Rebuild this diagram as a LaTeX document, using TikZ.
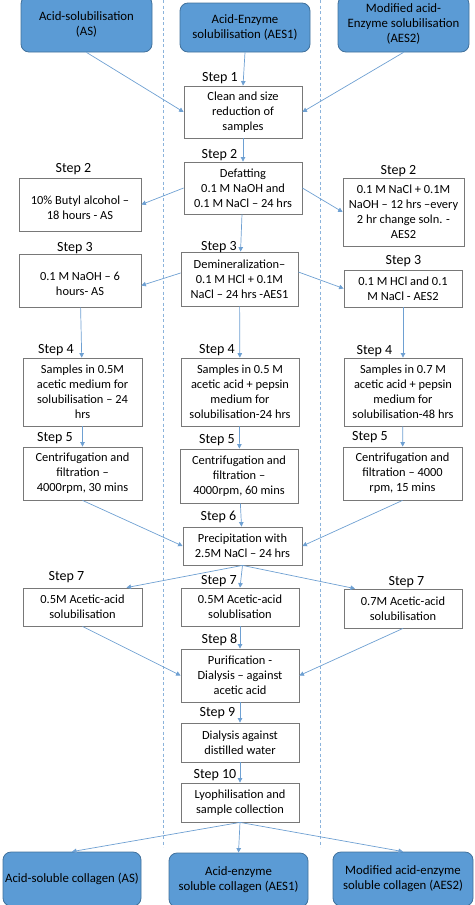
\documentclass[tikz,border=0pt]{standalone}
\usepackage{fontspec}
\setmainfont{Carlito}
\usepackage{xcolor}
\usepackage{tikz}
\usetikzlibrary{arrows.meta,positioning}

\definecolor{lineblue}{RGB}{110,160,210}
\definecolor{fillblue}{RGB}{91,155,213}
\definecolor{edgeblue}{RGB}{65,113,156}
\definecolor{boxgray}{RGB}{120,120,120}

\begin{document}
\begin{tikzpicture}[x=1pt, y=-1pt,
  stepbox/.style={draw=boxgray, line width=0.8pt, fill=white, inner sep=1pt, align=center, font=\fontsize{12.4}{15}\selectfont},
  endbox/.style={draw=edgeblue, line width=0.8pt, fill=fillblue, rounded corners=8pt, inner sep=1pt, align=center, font=\fontsize{12.8}{15}\selectfont},
  lbl/.style={inner sep=0pt, font=\fontsize{14}{16}\selectfont},
  arr/.style={draw=lineblue, line width=0.7pt, -{Triangle[length=4.5pt,width=4.5pt]}},
  sep/.style={draw=lineblue!80, line width=0.6pt, dash pattern=on 3pt off 2.5pt}
]
  \useasboundingbox (0,0) rectangle (474,905);

  % column separators
  \draw[sep] (163,0) -- (163,847);
  \draw[sep] (320,0) -- (320,847);

  % methods
  \node[endbox, minimum width=131pt, minimum height=56pt] (as) at (86.5,24) {Acid-solubilisation\\(AS)};
  \node[endbox, minimum width=130pt, minimum height=49pt] (aes1) at (245,27.5) {Acid-Enzyme\\solubilisation (AES1)};
  \node[endbox, minimum width=131pt, minimum height=56pt] (aes2) at (403.5,24) {Modified acid-\\Enzyme solubilisation\\(AES2)};

  % common and centre column
  \node[stepbox, minimum width=118pt, minimum height=52pt] (s1) at (243,112) {Clean and size\\reduction of\\samples};
  \node[stepbox, minimum width=118pt, minimum height=52pt] (s2) at (243,188) {Defatting\\0.1 M NaOH and\\0.1 M NaCl -- 24 hrs};
  \node[stepbox, minimum width=117pt, minimum height=54pt] (c3) at (239.5,279) {Demineralization--\\0.1 M HCl + 0.1M\\NaCl -- 24 hrs -AES1};
  \node[stepbox, minimum width=118pt, minimum height=68pt] (c4) at (240,392) {Samples in 0.5 M\\acetic acid + pepsin\\medium for\\solubilisation-24 hrs};
  \node[stepbox, minimum width=118pt, minimum height=54pt] (c5) at (239,476) {Centrifugation and\\filtration --\\4000rpm, 60 mins};
  \node[stepbox, minimum width=119pt, minimum height=38pt] (s6) at (242.5,546) {Precipitation with\\2.5M NaCl -- 24 hrs};
  \node[stepbox, minimum width=118pt, minimum height=38pt] (c7) at (240,607) {0.5M Acetic-acid\\solublisation};
  \node[stepbox, minimum width=118pt, minimum height=53pt] (s8) at (240,675.5) {Purification -\\Dialysis -- against\\acetic acid};
  \node[stepbox, minimum width=118pt, minimum height=39pt] (s9) at (240,742.5) {Dialysis against\\distilled water};
  \node[stepbox, minimum width=118pt, minimum height=39pt] (s10) at (240,802.5) {Lyophilisation and\\sample collection};

  % left column (AS)
  \node[stepbox, minimum width=122pt, minimum height=53pt] (l2) at (80,204.5) {~\\10\% Butyl alcohol --\\18 hours - AS};
  \node[stepbox, minimum width=122pt, minimum height=53pt] (l3) at (80,280.5) {~\\0.1 M NaOH -- 6\\hours- AS};
  \node[stepbox, minimum width=119pt, minimum height=68pt] (l4) at (82.5,392) {Samples in 0.5M\\acetic medium for\\solubilisation -- 24\\hrs};
  \node[stepbox, minimum width=119pt, minimum height=53pt] (l5) at (82.5,473.5) {Centrifugation and\\filtration --\\4000rpm, 30 mins};
  \node[stepbox, minimum width=119pt, minimum height=38pt] (l7) at (82.5,607) {0.5M Acetic-acid\\solubilisation};

  % right column (AES2)
  \node[stepbox, minimum width=121pt, minimum height=68pt] (r2) at (403.5,212) {0.1 M NaCl + 0.1M\\NaOH -- 12 hrs --every\\2 hr change soln. -\\AES2};
  \node[stepbox, minimum width=118pt, minimum height=37pt] (r3) at (403,288.5) {0.1 M HCl and 0.1\\M NaCl - AES2};
  \node[stepbox, minimum width=118pt, minimum height=68pt] (r4) at (403,392) {Samples in 0.7 M\\acetic acid + pepsin\\medium for\\solubilisation-48 hrs};
  \node[stepbox, minimum width=119pt, minimum height=53pt] (r5) at (402.5,473.5) {Centrifugation and\\filtration -- 4000\\rpm, 15 mins};
  \node[stepbox, minimum width=118pt, minimum height=39pt] (r7) at (403,608.5) {0.7M Acetic-acid\\solubilisation};

  % products
  \node[endbox, minimum width=138pt, minimum height=54pt] (pas) at (72,879) {Acid-soluble collagen (AS)};
  \node[endbox, minimum width=139pt, minimum height=54pt] (paes1) at (238.5,880) {Acid-enzyme\\soluble collagen (AES1)};
  \node[endbox, minimum width=140pt, minimum height=54pt] (paes2) at (403,879) {Modified acid-enzyme\\soluble collagen (AES2)};

  % step labels
  \node[lbl] (t1) at (220,78) {Step 1};
  \node[lbl] (t2) at (219.5,155) {Step 2};
  \node[lbl] (t2l) at (73.5,169) {Step 2};
  \node[lbl] (t2r) at (398.5,171) {Step 2};
  \node[lbl] (t3) at (219,247) {Step 3};
  \node[lbl] (t3l) at (75,248) {Step 3};
  \node[lbl] (t3r) at (403.5,261) {Step 3};
  \node[lbl] (t4) at (217,350) {Step 4};
  \node[lbl] (t4l) at (56,350) {Step 4};
  \node[lbl] (t4r) at (374.5,351) {Step 4};
  \node[lbl] (t5) at (217,440) {Step 5};
  \node[lbl] (t5l) at (55,438) {Step 5};
  \node[lbl] (t5r) at (370,437) {Step 5};
  \node[lbl] (t6) at (218.5,517) {Step 6};
  \node[lbl] (t7) at (219,581) {Step 7};
  \node[lbl] (t7l) at (66.5,577) {Step 7};
  \node[lbl] (t7r) at (406.5,582) {Step 7};
  \node[lbl] (t8) at (219.5,640) {Step 8};
  \node[lbl] (t9) at (217.5,713) {Step 9};
  \node[lbl] (t10) at (215,775) {Step 10};

  % connectors
  \draw[arr] (as.south) -- (s1.west);
  \draw[arr] (aes1.south) -- (s1.north);
  \draw[arr] (aes2.south) -- (s1.east);
  \draw[arr] (s1) -- (s2);
  \draw[arr] (s2.west) -- (l2.east);
  \draw[arr] (s2.east) -- (r2.west);
  \draw[arr] (s2) -- (c3);
  \draw[arr] ([yshift=6pt]c3.west) -- ([yshift=-5pt]l3.east);
  \draw[arr] ([yshift=7pt]c3.east) -- (r3.west);
  \draw[arr] (l3) -- (l4);
  \draw[arr] (c3) -- (c4);
  \draw[arr] (r3) -- (r4);
  \draw[arr] (l4) -- (l5);
  \draw[arr] (c4) -- (c5);
  \draw[arr] (r4) -- (r5);
  \draw[arr] (l5.south) -- (s6.west);
  \draw[arr] (c5) -- (s6);
  \draw[arr] (r5.south) -- (s6.east);
  \draw[arr] (s6.south) -- ([xshift=44pt]l7.north);
  \draw[arr] (s6.south) -- (c7.north);
  \draw[arr] (s6.south) -- ([xshift=-48pt]r7.north);
  \draw[arr] (l7.south) -- (s8.west);
  \draw[arr] (c7) -- (s8);
  \draw[arr] (r7.south) -- (s8.east);
  \draw[arr] (s8) -- (s9);
  \draw[arr] (s9) -- (s10);
  \draw[arr] (s10.south) -- (pas.north);
  \draw[arr] (s10.south) -- (paes1.north);
  \draw[arr] (s10.south) -- (paes2.north);
\end{tikzpicture}
\end{document}
